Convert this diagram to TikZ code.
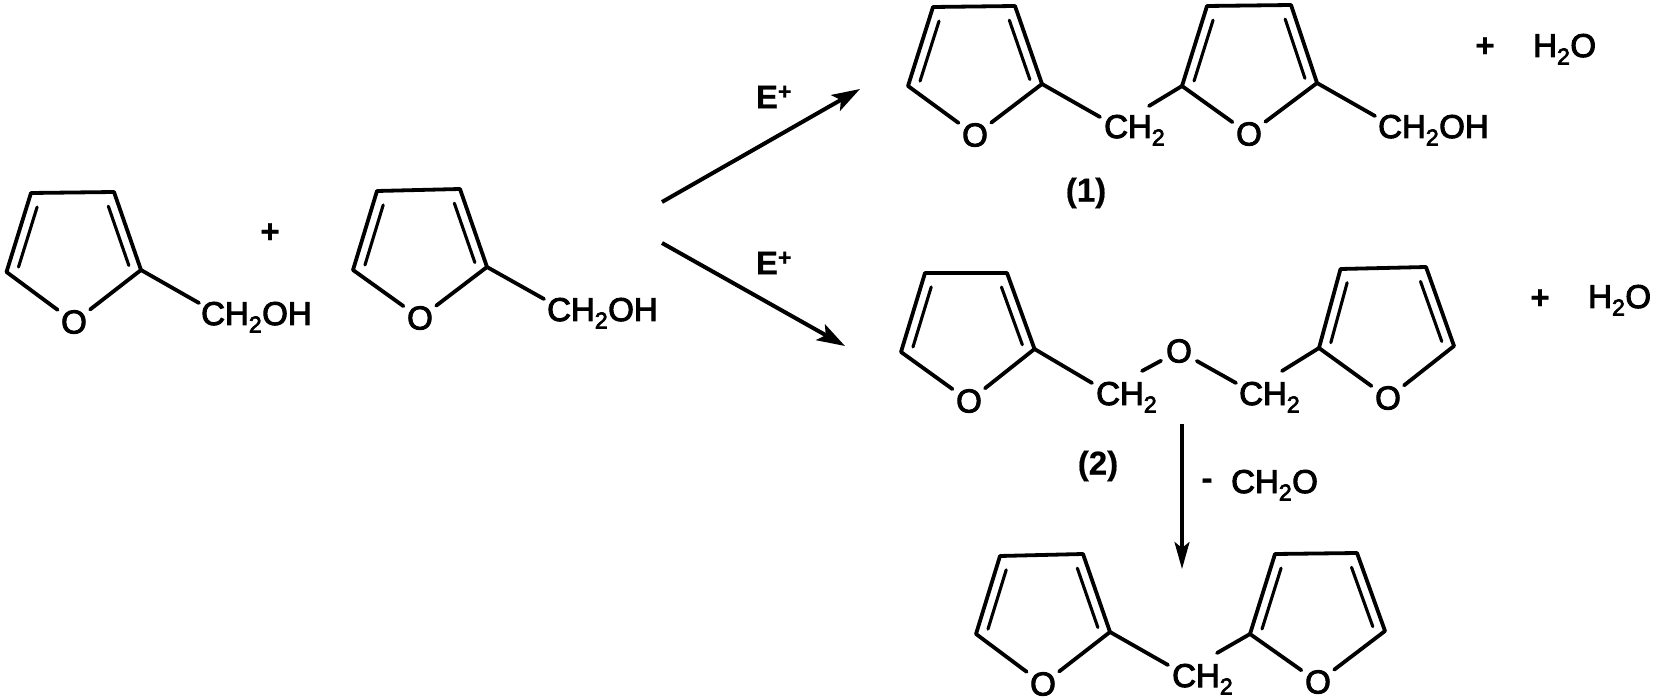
\documentclass[tikz,border=0pt]{standalone}
\usepackage{fontspec}
\setmainfont[FakeBold=3]{Liberation Sans}
\newfontfamily\tagfont[FakeBold=0.5]{Liberation Sans Bold}
\usetikzlibrary{calc,arrows.meta}
\tikzset{
	bond/.style={line width=3.8pt,line cap=round,line join=round},
	inner bond/.style={line width=3.1pt,line cap=round},
	reaction/.style={line width=4pt,->},
	atom/.style={circle,inner sep=2pt},
	formula/.style={inner sep=0pt,anchor=base west},
	tag/.style={inner sep=0pt,font=\tagfont\fontsize{33}{35}\selectfont}
}
% name, O, left, top left, top right, right
\newcommand{\furan}[6]{
	\node[atom] (#1O) at (#2) {O};
	\coordinate (#1l) at (#3);
	\coordinate (#1tl) at (#4);
	\coordinate (#1tr) at (#5);
	\coordinate (#1r) at (#6);
	\draw[bond] (#1O)--(#1l)--(#1tl)--(#1tr)--(#1r)--(#1O);
	\draw[inner bond] ($(#1l)!.1!(#1tl)!10pt!-90:(#1tl)$)--($(#1l)!.86!(#1tl)!10pt!-90:(#1tl)$);
	\draw[inner bond] ($(#1r)!.1!(#1tr)!10pt!90:(#1tr)$)--($(#1r)!.86!(#1tr)!10pt!90:(#1tr)$);
}
\begin{document}
\begin{tikzpicture}[x=1pt,y=-1pt,>={Stealth[length=28pt,width=18pt,inset=6pt]},font=\fontsize{33}{35}\selectfont]
	\useasboundingbox (0,0) rectangle (1654,700);
	% reactants
	\furan{a}{74,322}{6.5,272}{31,193}{114,192}{141,270}
	\furan{b}{420,318}{353,270}{377,191}{460,189}{487,267}
	\node[formula] (aside) at (201,325) {CH\textsubscript{2}OH};
	\node[formula] (bside) at (547,321) {CH\textsubscript{2}OH};
	\coordinate (aend) at (199,303);
	\coordinate (bend) at (544,299);
	\draw[bond] (ar)--(aend);
	\draw[bond] (br)--(bend);
	\node[tag] (plus) at (270,233) {+};
	% arrows
	\coordinate (up0) at (662,202);
	\coordinate (up1) at (860,89);
	\coordinate (dn0) at (662,243);
	\coordinate (dn1) at (845,346);
	\coordinate (ar0) at (1182,424);
	\coordinate (ar1) at (1182,569);
	\draw[reaction] (up0)--(up1);
	\draw[reaction] (dn0)--(dn1);
	\draw[line width=3.2pt,-{Stealth[length=27pt,width=15pt,inset=6pt]}] (ar0)--(ar1);
	\node[tag] (Eup) at (774,97) {E\textsuperscript{+}};
	\node[tag] (Edn) at (774,263) {E\textsuperscript{+}};
	% product 1
	\furan{c}{975,135}{908,86}{933,7}{1015,6}{1042,84}
	\furan{d}{1249,134}{1182,86}{1207,6}{1291,5}{1317,83}
	\node[formula] (cbr) at (1104,138) {CH\textsubscript{2}};
	\node[formula] (dside) at (1378,138) {CH\textsubscript{2}OH};
	\coordinate (cend) at (1100,117);
	\coordinate (dbeg) at (1149,106);
	\coordinate (dend) at (1375,116);
	\draw[bond] (cr)--(cend);
	\draw[bond] (dbeg)--(dl);
	\draw[bond] (dr)--(dend);
	\node[tag] (plusa) at (1485,47) {+};
	\node[formula] (watera) at (1533,57) {H\textsubscript{2}O};
	\node[tag] (one) at (1086,193) {(1)};
	% product 2
	\furan{e}{969,401}{901,352}{925,273}{1007,273}{1034.5,349}
	\furan{f}{1388,398}{1319,348}{1340.5,269}{1426,267}{1454,346}
	\node[atom] (bridge) at (1179,351) {O};
	\node[formula] (ebr) at (1096,405) {CH\textsubscript{2}};
	\node[formula] (fbr) at (1239,405) {CH\textsubscript{2}};
	\coordinate (eend) at (1092,383);
	\coordinate (ebeg) at (1142,371);
	\coordinate (fend) at (1236,383);
	\coordinate (fbeg) at (1282,371);
	\draw[bond] (er)--(eend);
	\draw[bond] (ebeg)--(bridge);
	\draw[bond] (bridge)--(fend);
	\draw[bond] (fbeg)--(fl);
	\node[tag] (plusb) at (1540,299) {+};
	\node[formula] (waterb) at (1588,308) {H\textsubscript{2}O};
	\node[tag] (two) at (1098,466) {(2)};
	\node[tag] (minus) at (1207,484) {-};
	\node[formula] (loss) at (1231,493) {CH\textsubscript{2}O};
	% product 3
	\furan{g}{1043,684}{976,634}{1000,556}{1083,554}{1110,632}
	\furan{h}{1318,682}{1250,634}{1275,554}{1357,553}{1385,631}
	\node[formula] (gbr) at (1172,687) {CH\textsubscript{2}};
	\coordinate (gend) at (1168,665);
	\coordinate (hbeg) at (1217,653);
	\draw[bond] (gr)--(gend);
	\draw[bond] (hbeg)--(hl);
\end{tikzpicture}
\end{document}
